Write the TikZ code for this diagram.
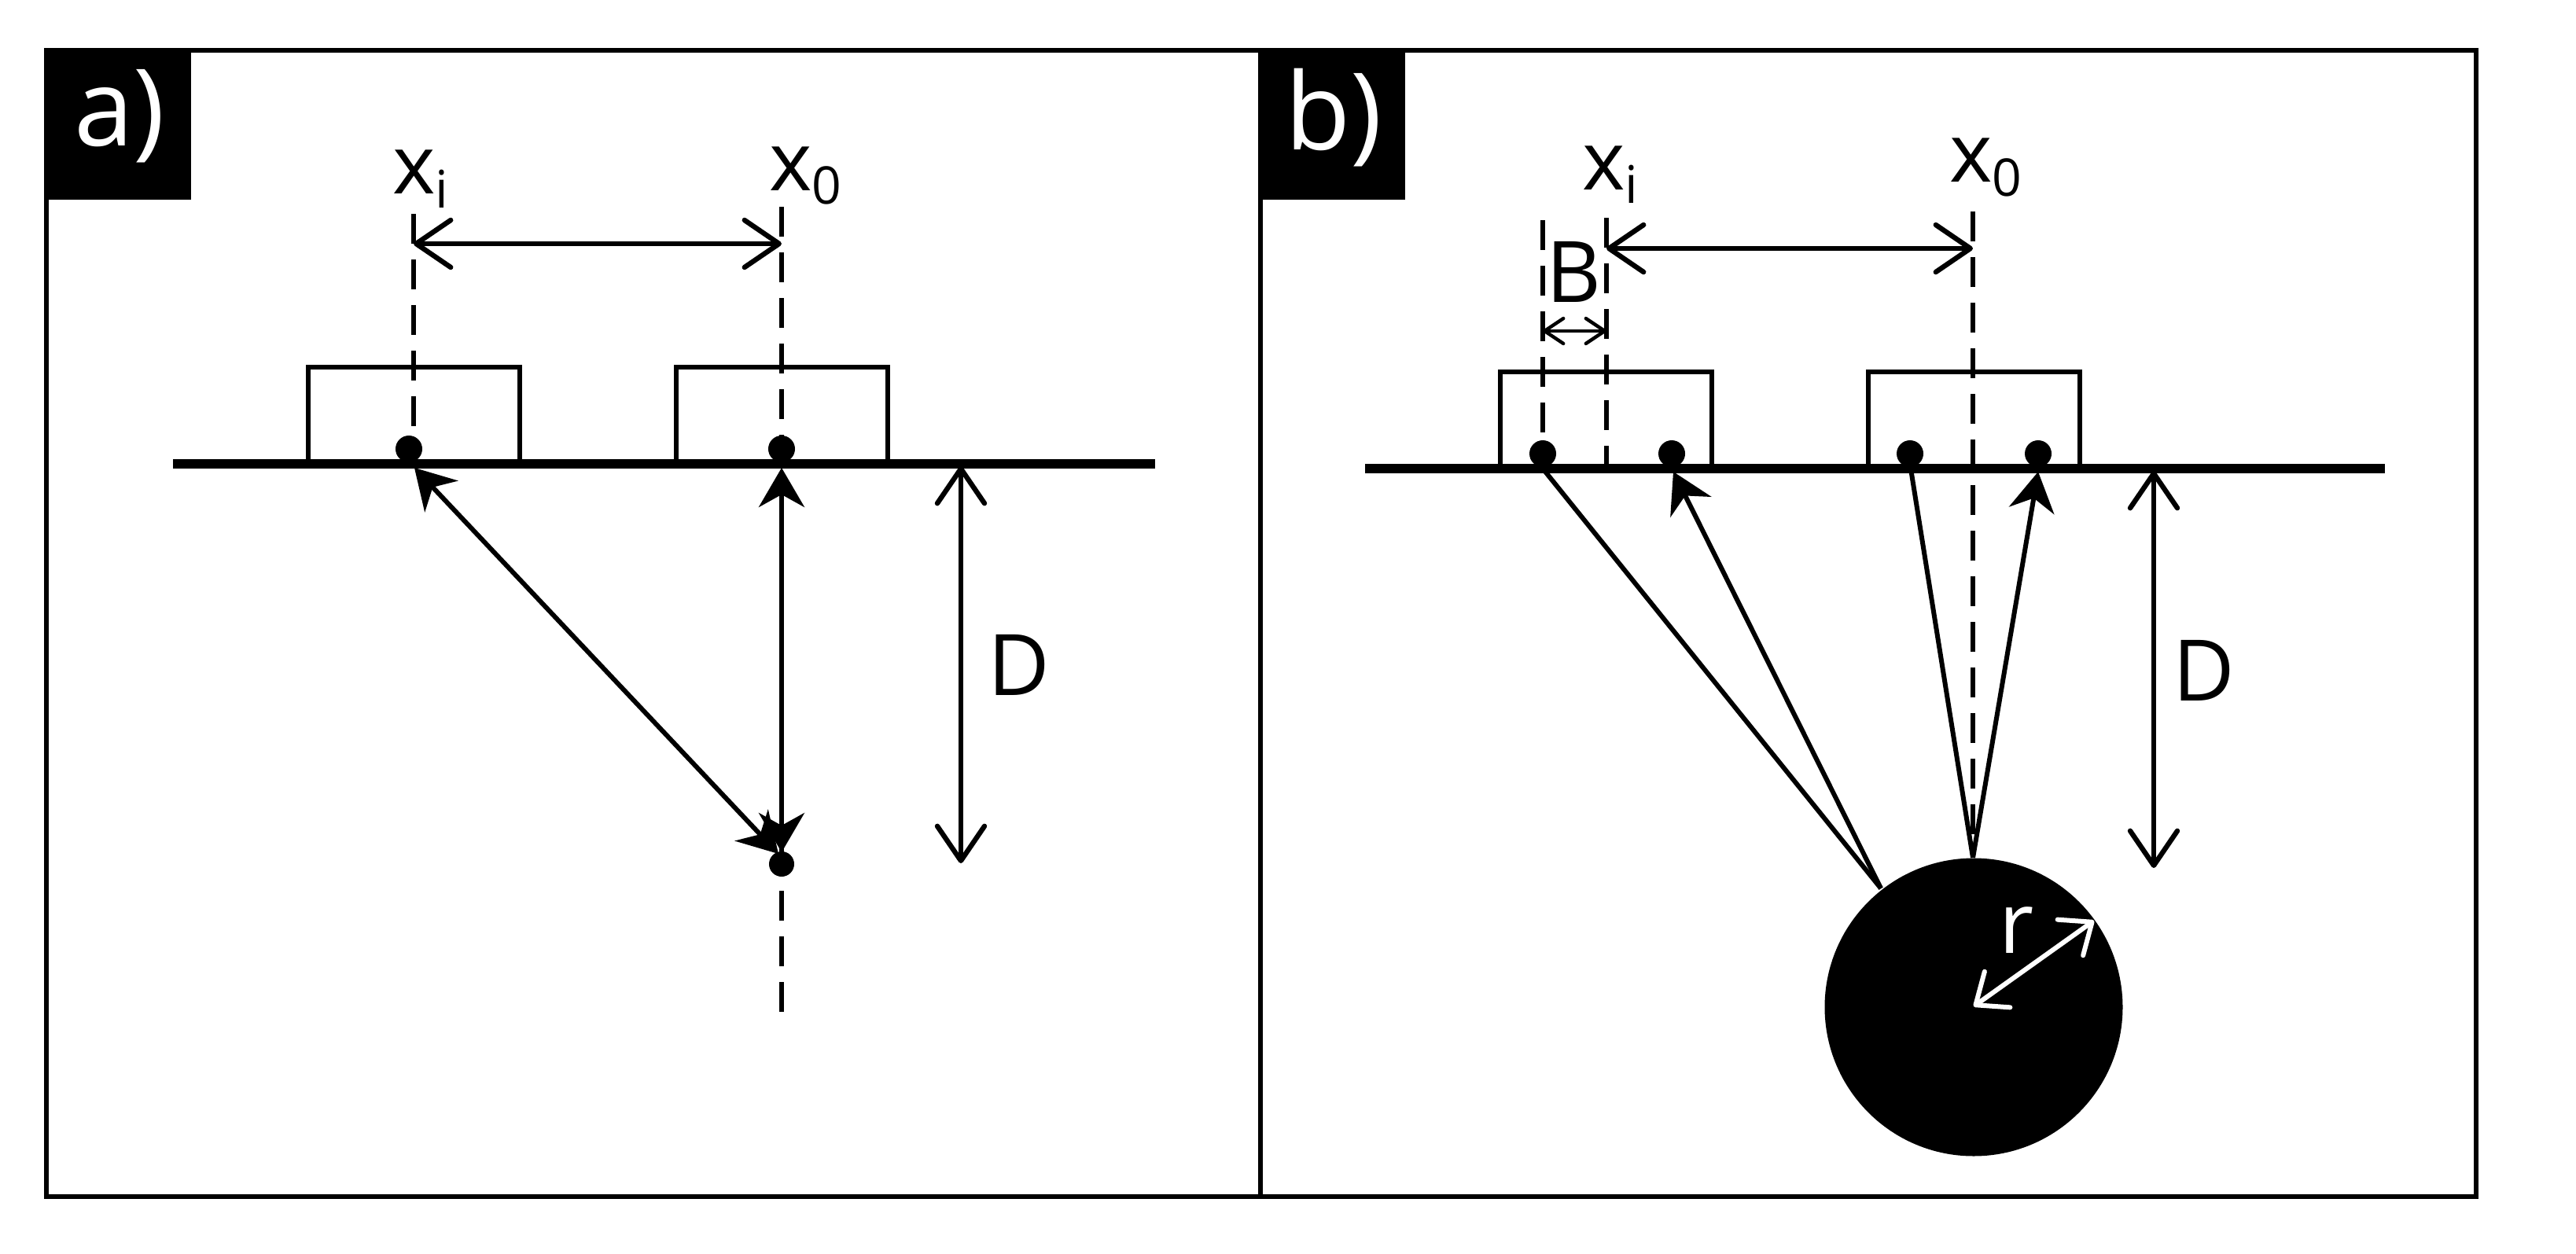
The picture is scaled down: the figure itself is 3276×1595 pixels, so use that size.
\documentclass[tikz,border=0pt]{standalone}
\usepackage{fontspec}
\setmainfont{Open Sans}
\usetikzlibrary{arrows.meta}
\newcommand{\fsz}[1]{\fontsize{#1}{#1}\selectfont}
\newcommand{\subscr}[2]{{\fsz{33}\raisebox{#1}{#2}}}
\tikzset{
  x=0.5pt,y=-0.5pt,
  baseln/.style={line width=5.8pt,black},
  dashline/.style={line width=2.6pt,black,dash pattern=on 19pt off 10pt},
  openarrow/.style={line width=3.2pt,{Straight Barb[length=22pt,width=30pt,round]}-{Straight Barb[length=22pt,width=30pt,round]}},
  smallarrow/.style={line width=2.2pt,{Straight Barb[length=12pt,width=16pt,round]}-{Straight Barb[length=12pt,width=16pt,round]}},
  whitearrow/.style={white,line width=3pt,{Straight Barb[length=17pt,width=28pt,round]}-{Straight Barb[length=17pt,width=28pt,round]}},
  filledboth/.style={line width=3pt,{Stealth[length=25pt,width=29pt,inset=8pt]}-{Stealth[length=25pt,width=29pt,inset=8pt]}},
  filledhead/.style={line width=3pt,-{Stealth[length=25pt,width=29pt,inset=8pt]}},
  ray/.style={line width=3pt,black},
  dot/.style={circle,fill=black,inner sep=0pt,minimum size=17pt},
  tag/.style={fill=black,inner sep=0pt,anchor=north west,minimum width=92pt,minimum height=95pt},
  tagtext/.style={text=white,inner sep=0pt,font=\fsz{68}},
  lab/.style={inner sep=0pt,anchor=base west,font=\fsz{52}},
  detector/.style={draw=black,line width=2.8pt}
}
\begin{document}
\begin{tikzpicture}
\useasboundingbox (0,0) rectangle (3276,1595);
\fill[white] (0,0) rectangle (3276,1595);
% frames
\draw[line width=2.6pt] (59,64) rectangle (1603,1522);
\draw[line width=2.6pt] (1603,64) rectangle (3149,1522);
\node[tag] (tagA) at (59,64) {};
\node[tag] (tagB) at (1603,64) {};
\node[tagtext] (ta) at (152,148) {a)};
\node[tagtext] (tb) at (1696,150) {b)};
% panel a coordinates
\coordinate (aXiT) at (526,272);
\coordinate (aX0T) at (994,263);
\coordinate (aXiB) at (526,550);
\coordinate (aX0B) at (994,1287);
\coordinate (aL) at (220,590);
\coordinate (aR) at (1469,590);
\coordinate (aDT) at (1222,593);
\coordinate (aDB) at (1222,1098);
\coordinate (aA1) at (527,595);
\coordinate (aA2) at (990,1086);
\coordinate (aV1) at (994,595);
\coordinate (aV2) at (994,1084);
\coordinate (aH1) at (526,310);
\coordinate (aH2) at (994,310);
% panel a
\draw[detector] (392,590) -- (392,467) -- (661,467) -- (661,590);
\draw[detector] (860,590) -- (860,467) -- (1129,467) -- (1129,590);
\draw[dashline] (aXiT) -- (aXiB);
\draw[dashline] (aX0T) -- (aX0B);
\draw[baseln] (aL) -- (aR);
\node[dot] (adi) at (520,571) {};
\node[dot] (ad0) at (994,571) {};
\node[dot,minimum size=16pt] (adp) at (994,1099) {};
\draw[filledboth] (aA1) -- (aA2);
\draw[filledboth] (aV1) -- (aV2);
\draw[openarrow] (aH1) -- (aH2);
\draw[openarrow] (aDT) -- (aDB);
\node[lab] (axi) at (499,246) {x\subscr{-9pt}{i}};
\node[lab] (ax0) at (978,242) {x\subscr{-9pt}{0}};
\node[inner sep=0pt,font=\fsz{54}] (aD) at (1296,846) {D};
% panel b coordinates
\coordinate (bL) at (1736,596);
\coordinate (bR) at (3033,596);
\coordinate (bS1) at (1962,280);
\coordinate (bS2) at (1962,570);
\coordinate (bS3) at (1962,596);
\coordinate (bI1) at (2043,277);
\coordinate (bI2) at (2043,596);
\coordinate (bZ1) at (2509,269);
\coordinate (bZ2) at (2509,1091);
\coordinate (bP) at (2392,1130);
\coordinate (bQ) at (2509,1091);
\coordinate (bT2) at (2128,600);
\coordinate (bT3) at (2429,590);
\coordinate (bT4) at (2592,600);
\coordinate (bDT) at (2739,599);
\coordinate (bDB) at (2739,1104);
\coordinate (bH1) at (2043,316);
\coordinate (bH2) at (2509,316);
\coordinate (bB1) at (1962,421);
\coordinate (bB2) at (2043,421);
% panel b
\draw[detector] (1908,596) -- (1908,473) -- (2177,473) -- (2177,596);
\draw[detector] (2376,596) -- (2376,473) -- (2645,473) -- (2645,596);
\draw[dashline] (bS1) -- (bS2);
\draw[dashline] (bI1) -- (bI2);
\draw[dashline] (bZ1) -- (bZ2);
\draw[baseln] (bL) -- (bR);
\node[dot] (b1) at (1962,577) {};
\node[dot] (b2) at (2126,577) {};
\node[dot] (b3) at (2429,577) {};
\node[dot] (b4) at (2592,577) {};
\draw[ray] (bS3) -- (bP);
\draw[filledhead] (bP) -- (bT2);
\draw[ray] (bT3) -- (bQ);
\draw[filledhead] (bQ) -- (bT4);
\draw[openarrow] (bH1) -- (bH2);
\draw[smallarrow] (bB1) -- (bB2);
\draw[openarrow] (bDT) -- (bDB);
\node[circle,fill=black,inner sep=0pt,minimum size=189.5pt] (ball) at (2510,1281) {};
\coordinate (rc) at (2510,1280);
\coordinate (re) at (2663,1171);
\draw[whitearrow] (rc) -- (re);
\node[inner sep=0pt,font=\fsz{54},text=white] (rl) at (2565,1183) {r};
\node[lab] (bxi) at (2012,241) {x\subscr{-9pt}{i}};
\node[lab] (bx0) at (2479,231) {x\subscr{-9pt}{0}};
\node[inner sep=0pt,font=\fsz{54}] (bB) at (2001,346) {B};
\node[inner sep=0pt,font=\fsz{54}] (bD) at (2803,853) {D};
\end{tikzpicture}
\end{document}
